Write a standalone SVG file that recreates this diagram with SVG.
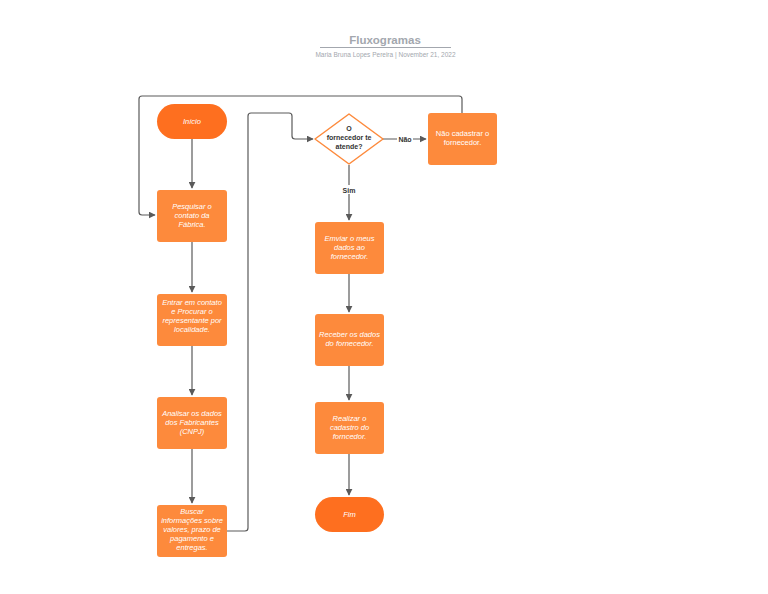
<svg xmlns="http://www.w3.org/2000/svg" width="768" height="594" viewBox="0 0 768 594">
<defs>
<style>
.box{fill:#fd8a3c;}
.term{fill:#fe6f1f;}
.t{font-family:"Liberation Sans",Arial,sans-serif;font-size:7.5px;font-style:italic;fill:#ffffff;text-anchor:middle;}
.t.n{font-style:normal;}
.d{font-family:"Liberation Sans",Arial,sans-serif;font-size:7px;font-weight:bold;fill:#333333;text-anchor:middle;}
.c{fill:none;stroke:#5a5a5a;stroke-width:1.2;}
</style>
<marker id="ah" viewBox="0 0 10 10" refX="9" refY="5" markerWidth="7" markerHeight="7" orient="auto" markerUnits="userSpaceOnUse">
<path d="M0,0 L10,5 L0,10 z" fill="#5a5a5a"/>
</marker>
</defs>
<rect width="768" height="594" fill="#ffffff"/>
<g id="title">
<text x="385" y="44" font-family="Liberation Sans,Arial,sans-serif" font-size="11.5" font-weight="bold" fill="#a3a7ae" text-anchor="middle">Fluxogramas</text>
<line x1="320" y1="47.5" x2="451" y2="47.5" stroke="#a3a7ae" stroke-width="1"/>
<text x="385.5" y="57" font-family="Liberation Sans,Arial,sans-serif" font-size="6.5" fill="#a3a7ae" text-anchor="middle">Maria Bruna Lopes Pereira  |  November 21, 2022</text>
</g>
<g id="connectors">
<path class="c" d="M192,139 V188" marker-end="url(#ah)"/>
<path class="c" d="M192,242 V292" marker-end="url(#ah)"/>
<path class="c" d="M192,346 V395" marker-end="url(#ah)"/>
<path class="c" d="M192,449 V503" marker-end="url(#ah)"/>
<path class="c" d="M227,531 H245 Q248,531 248,528 V116 Q248,113 251,113 H289 Q292,113 292,116 V136 Q292,139 295,139 H313" marker-end="url(#ah)"/>
<path class="c" d="M383,139 H426" marker-end="url(#ah)"/>
<path class="c" d="M462,113 V99 Q462,96 459,96 H142 Q139,96 139,99 V212 Q139,215 142,215 H155" marker-end="url(#ah)"/>
<path class="c" d="M349,165 V220" marker-end="url(#ah)"/>
<path class="c" d="M349,274 V312" marker-end="url(#ah)"/>
<path class="c" d="M349,366 V400" marker-end="url(#ah)"/>
<path class="c" d="M349,454 V495" marker-end="url(#ah)"/>
<rect x="397" y="134" width="16" height="9" fill="#ffffff"/>
<text class="d" x="405" y="141.5">Não</text>
<rect x="339" y="185" width="20" height="9" fill="#ffffff"/>
<text class="d" x="349" y="192.5">Sim</text>
</g>
<g id="inicio">
<rect class="term" x="157" y="104" width="70" height="35" rx="17.5"/>
<text class="t" x="192" y="124">Início</text>
</g>
<g id="pesquisar">
<rect class="box" x="157" y="190" width="70" height="52" rx="3"/>
<text class="t" x="192" y="208.5">Pesquisar o</text>
<text class="t" x="192" y="217.5">contato da</text>
<text class="t" x="192" y="226.5">Fábrica.</text>
</g>
<g id="entrar">
<rect class="box" x="157" y="294" width="70" height="52" rx="3"/>
<text class="t" x="192" y="305">Entrar em contato</text>
<text class="t" x="192" y="314">e Procurar o</text>
<text class="t" x="192" y="323">representante por</text>
<text class="t" x="192" y="332">localidade.</text>
</g>
<g id="analisar">
<rect class="box" x="157" y="397" width="70" height="52" rx="3"/>
<text class="t" x="192" y="415.5">Analisar os dados</text>
<text class="t" x="192" y="424.5">dos Fabricantes</text>
<text class="t" x="192" y="433.5">(CNPJ)</text>
</g>
<g id="buscar">
<rect class="box" x="157" y="505" width="70" height="52" rx="3"/>
<text class="t" x="192" y="514">Buscar</text>
<text class="t" x="192" y="523">informações sobre</text>
<text class="t" x="192" y="532">valores, prazo de</text>
<text class="t" x="192" y="541">pagamento e</text>
<text class="t" x="192" y="550">entregas.</text>
</g>
<g id="decisao">
<path d="M349,114 L383,139 L349,164 L315,139 Z" fill="#ffffff" stroke="#fd8a3c" stroke-width="1.5" stroke-linejoin="round"/>
<text class="d" x="349" y="131">O</text>
<text class="d" x="349" y="140">fornecedor te</text>
<text class="d" x="349" y="149">atende?</text>
</g>
<g id="naocadastrar">
<rect class="box" x="428" y="113" width="69" height="52" rx="3"/>
<text class="t n" x="462.5" y="136">Não cadastrar o</text>
<text class="t n" x="462.5" y="145">fornecedor.</text>
</g>
<g id="enviar">
<rect class="box" x="315" y="222" width="69" height="52" rx="3"/>
<text class="t" x="349.5" y="240.5">Emviar o meus</text>
<text class="t" x="349.5" y="249.5">dados ao</text>
<text class="t" x="349.5" y="258.5">fornecedor.</text>
</g>
<g id="receber">
<rect class="box" x="315" y="314" width="69" height="52" rx="3"/>
<text class="t" x="349.5" y="337">Receber os dados</text>
<text class="t" x="349.5" y="346">do fornecedor.</text>
</g>
<g id="realizar">
<rect class="box" x="315" y="402" width="69" height="52" rx="3"/>
<text class="t" x="349.5" y="420.5">Realizar o</text>
<text class="t" x="349.5" y="429.5">cadastro do</text>
<text class="t" x="349.5" y="438.5">forncedor.</text>
</g>
<g id="fim">
<rect class="term" x="315" y="497" width="69" height="35" rx="17.5"/>
<text class="t" x="349.5" y="517">Fim</text>
</g>
</svg>
